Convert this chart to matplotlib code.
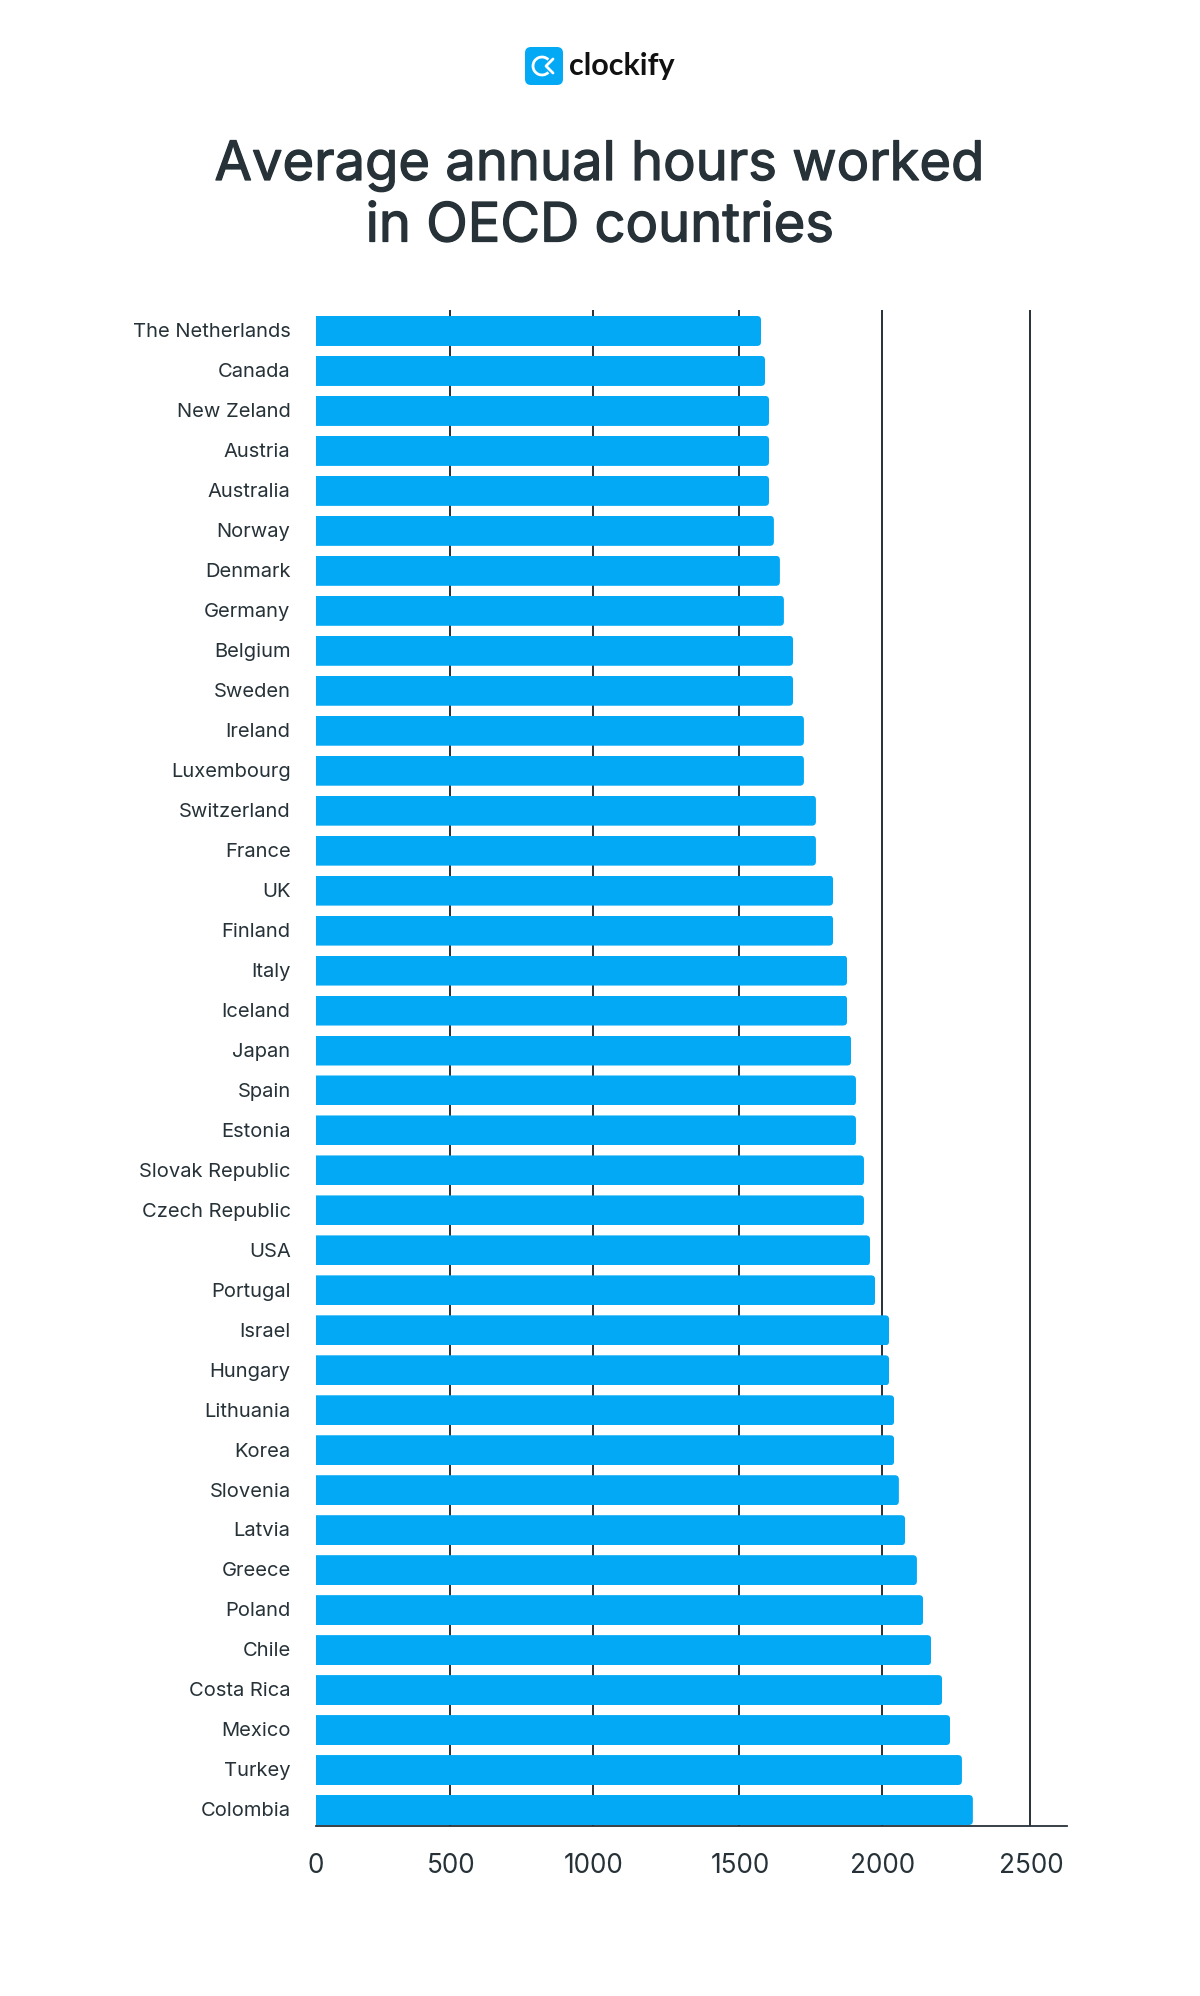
import matplotlib
matplotlib.use("Agg")
import matplotlib.pyplot as plt
import matplotlib.patheffects as pe
import numpy as np
from matplotlib.patches import Arc, FancyBboxPatch
from matplotlib.transforms import Affine2D, IdentityTransform

# Data
countries = [
    "The Netherlands", "Canada", "New Zeland", "Austria", "Australia", "Norway",
    "Denmark", "Germany", "Belgium", "Sweden", "Ireland", "Luxembourg",
    "Switzerland", "France", "UK", "Finland", "Italy", "Iceland", "Japan",
    "Spain", "Estonia", "Slovak Republic", "Czech Republic", "USA", "Portugal",
    "Israel", "Hungary", "Lithuania", "Korea", "Slovenia", "Latvia", "Greece",
    "Poland", "Chile", "Costa Rica", "Mexico", "Turkey", "Colombia",
]
hours = [
    1577, 1591, 1605, 1605, 1605, 1622, 1643, 1657, 1689, 1689, 1727, 1727,
    1769, 1769, 1829, 1829, 1878, 1878, 1892, 1909, 1909, 1937, 1937, 1958,
    1976, 2024, 2024, 2041, 2041, 2057, 2078, 2118, 2139, 2166, 2203, 2230,
    2270, 2307,
]
x_ticks = [0, 500, 1000, 1500, 2000, 2500]

W, H = 1200, 1996
DARK = "#263238"
BLUE = "#03A9F4"

# The gridlines of the original are not evenly spaced, so the x axis is piecewise
scale_values = [0, 500, 1000, 1500, 2000, 2500, 2625]
scale_pixels = [316, 450, 593, 739, 882, 1030, 1067]


def forward(x):
    return np.interp(x, scale_values, scale_pixels)


def inverse(p):
    return np.interp(p, scale_pixels, scale_values)


fig = plt.figure(figsize=(W / 100, H / 100), dpi=100, facecolor="white")

# Background axes in pixel coordinates for logo and title
bg = fig.add_axes([0, 0, 1, 1])
bg.set_xlim(0, W)
bg.set_ylim(H, 0)
bg.axis("off")

bg.add_patch(FancyBboxPatch((525, 47), 38, 38, boxstyle="round,pad=0,rounding_size=6",
                            fc=BLUE, ec="none"))
bg.add_patch(Arc((542, 66), 18, 18, theta1=45, theta2=315, color="white", lw=2))
bg.plot([553, 546, 553], [59, 66, 73], color="white", lw=2, solid_capstyle="round")
bg.text(569, 74.5, "clockify", fontsize=22, fontweight="bold", family="Lato",
        color="#111111", ha="left", va="baseline")

# Inter comes out lighter than the original title, a thin stroke thickens it
title_fx = [pe.withStroke(linewidth=0.9, foreground=DARK)]
bg.text(600, 180, "Average annual hours worked", fontsize=39.1,
        family="Inter", color=DARK, ha="center", va="baseline", path_effects=title_fx)
bg.text(600, 241.5, "in OECD countries", fontsize=39.1,
        family="Inter", color=DARK, ha="center", va="baseline", path_effects=title_fx)

# Main chart
ax = fig.add_axes([316 / W, 1 - 1826 / H, (1067 - 316) / W, (1826 - 310) / H])
ax.patch.set_alpha(0)
ax.set_xscale("function", functions=(forward, inverse))

y = np.arange(len(countries))
bars = ax.barh(y, hours, height=0.75, color=BLUE, zorder=3)

ax.set_xlim(0, 2625)
ax.set_ylim(37.40, -0.525)
ax.set_xticks(x_ticks)
ax.set_xticklabels([str(t) for t in x_ticks], family="Inter", fontsize=18.8, color=DARK)
ax.set_yticks(y)
ax.set_yticklabels(countries, family="Inter", fontsize=14.5, color=DARK)
ax.tick_params(axis="x", length=0, pad=19.7)
ax.tick_params(axis="y", length=0, pad=18.3)

# Small nudges in pixels to sit where the original labels sit
for label in ax.get_yticklabels():
    label.set_transform(label.get_transform() + Affine2D().translate(0, 0.7))
for label in ax.get_xticklabels()[1:]:
    label.set_transform(label.get_transform() + Affine2D().translate(1, 0))

ax.grid(axis="x", color=DARK, lw=1.4, zorder=1)
ax.set_axisbelow(True)
ax.get_xgridlines()[0].set_visible(False)

for side in ["top", "left", "right"]:
    ax.spines[side].set_visible(False)
ax.spines["bottom"].set_color(DARK)
ax.spines["bottom"].set_linewidth(1.3)
ax.spines["bottom"].set_zorder(4)

# Round the right-hand corners of each bar
fig.canvas.draw()
for bar in bars:
    box = bar.get_window_extent()
    clip = FancyBboxPatch((box.x0 - 20, box.y0), box.width + 20, box.height,
                          boxstyle="round,pad=0,rounding_size=4",
                          transform=IdentityTransform())
    bar.set_clip_path(clip)

fig.savefig("out.png", dpi=100)
